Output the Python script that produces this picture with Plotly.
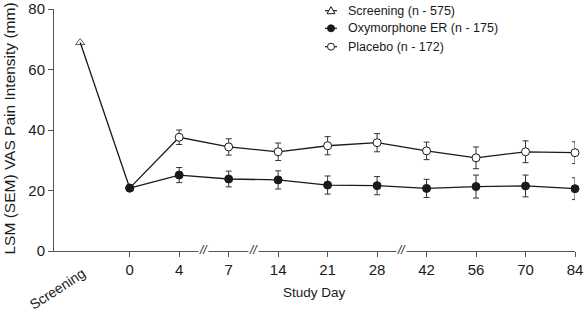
import plotly.graph_objects as go

# Data
categories = ["Screening", "0", "4", "7", "14", "21", "28", "42", "56", "70", "84"]
screening_x = ["Screening", "0"]
screening_y = [68.9, 20.8]
days = ["0", "4", "7", "14", "21", "28", "42", "56", "70", "84"]
oxy_y = [20.8, 25.1, 23.8, 23.5, 21.8, 21.6, 20.7, 21.3, 21.5, 20.6]
oxy_err = [0.0, 2.5, 2.6, 3.0, 3.0, 3.0, 3.0, 3.8, 3.6, 3.6]
plc_y = [20.8, 37.6, 34.4, 32.8, 34.8, 35.8, 33.1, 30.8, 32.8, 32.5]
plc_err = [0.0, 2.4, 2.7, 2.9, 3.0, 3.0, 2.9, 3.6, 3.6, 3.6]
break_after = ["4", "7", "28"]
yticks = [0, 20, 40, 60, 80]
legend_labels = ["Screening (n - 575)", "Oxymorphone ER (n - 175)", "Placebo (n - 172)"]

idx = {c: i for i, c in enumerate(categories)}
font = "Liberation Sans, Arial, sans-serif"
ink = "#1a1a1a"
axc = "#555"

W, H = 584, 317
L, R, T, B = 54, 9, 9, 66
pw, ph = W - L - R, H - T - B


def px(xp):
    return (xp - L) / pw


def py(yp):
    return (H - B - yp) / ph


fig = go.Figure()
fig.add_trace(go.Scatter(
    x=[idx[c] for c in screening_x], y=screening_y, mode="lines+markers",
    line=dict(color=ink, width=1.3),
    marker=dict(symbol=["triangle-up-open", "circle"], size=[8, 0], color=ink,
                line=dict(color=ink, width=1)),
    cliponaxis=False, showlegend=False, hoverinfo="skip",
))
fig.add_trace(go.Scatter(
    x=[idx[d] for d in days], y=plc_y, mode="lines+markers",
    line=dict(color=ink, width=1.3),
    marker=dict(symbol="circle", size=8, color="white", line=dict(color=ink, width=1)),
    error_y=dict(type="data", array=plc_err, visible=True, color="#333", thickness=1, width=3),
    cliponaxis=False, showlegend=False, hoverinfo="skip",
))
fig.add_trace(go.Scatter(
    x=[idx[d] for d in days], y=oxy_y, mode="lines+markers",
    line=dict(color=ink, width=1.3),
    marker=dict(symbol="circle", size=8, color=ink, line=dict(color=ink, width=1)),
    error_y=dict(type="data", array=oxy_err, visible=True, color="#333", thickness=1, width=3),
    cliponaxis=False, showlegend=False, hoverinfo="skip",
))

# break marks on x axis
for b in break_after:
    fig.add_annotation(x=idx[b] + 0.5, y=0, xref="x", yref="y", text="<i>//</i>",
                       showarrow=False, font=dict(size=12, color=ink, family=font),
                       bgcolor="white", borderpad=0, yshift=1)

# rotated Screening label
fig.add_annotation(x=px(57), y=py(289), xref="paper", yref="paper",
                   text="Screening", textangle=-33, showarrow=False,
                   font=dict(size=14, color=ink, family=font),
                   xanchor="center", yanchor="middle")

# axis titles
fig.add_annotation(x=px(314.5), y=py(292), xref="paper", yref="paper",
                   text="Study Day", showarrow=False,
                   font=dict(size=13.5, color=ink, family=font),
                   xanchor="center", yanchor="middle")
fig.add_annotation(x=px(9), y=py(128.5), xref="paper", yref="paper",
                   text="LSM (SEM) VAS Pain Intensity (mm)", textangle=-90, showarrow=False,
                   font=dict(size=15.5, color=ink, family=font),
                   xanchor="center", yanchor="middle")

# manual legend
rows = [10.7, 28.3, 46.7]
sx = 331
shapes = []
for i, (lab, ry) in enumerate(zip(legend_labels, rows)):
    shapes.append(dict(type="line", xref="paper", yref="paper",
                       x0=px(sx - 6), x1=px(sx + 6), y0=py(ry), y1=py(ry),
                       line=dict(color=ink, width=1.2)))
    if i == 0:
        shapes.append(dict(type="path", xref="paper", yref="paper",
                           xsizemode="pixel", ysizemode="pixel",
                           xanchor=px(sx), yanchor=py(ry),
                           path="M -4,-3 L 4,-3 L 0,4 Z",
                           fillcolor="white", line=dict(color=ink, width=1)))
    else:
        shapes.append(dict(type="circle", xref="paper", yref="paper",
                           xsizemode="pixel", ysizemode="pixel",
                           xanchor=px(sx), yanchor=py(ry),
                           x0=-3.5, x1=3.5, y0=-3.5, y1=3.5,
                           fillcolor=ink if i == 1 else "white",
                           line=dict(color=ink, width=1)))
    fig.add_annotation(x=px(346), y=py(ry), xref="paper", yref="paper",
                       text=lab, showarrow=False, xanchor="left", yanchor="middle",
                       font=dict(size=12.5, color=ink, family=font))

fig.update_layout(
    width=W, height=H,
    margin=dict(l=L, r=R, t=T, b=B, autoexpand=False),
    paper_bgcolor="white", plot_bgcolor="white",
    font=dict(family=font, color=ink, size=13),
    showlegend=False, hovermode=False,
    shapes=shapes,
    xaxis=dict(range=[-0.53, 10], tickmode="array",
               tickvals=list(range(1, len(categories))),
               ticktext=categories[1:],
               showline=True, linecolor=axc, linewidth=1,
               ticks="outside", ticklen=5, tickcolor=axc,
               showgrid=False, zeroline=False, automargin=False,
               tickfont=dict(size=15)),
    yaxis=dict(range=[0, 80], tickvals=yticks,
               showline=True, linecolor=axc, linewidth=1,
               ticks="outside", ticklen=5, tickcolor=axc,
               showgrid=False, zeroline=False, automargin=False,
               tickfont=dict(size=15)),
)

fig.write_html("out.html", config={"displayModeBar": False},
               post_script="document.body.style.margin='0';document.body.style.overflow='hidden';")
